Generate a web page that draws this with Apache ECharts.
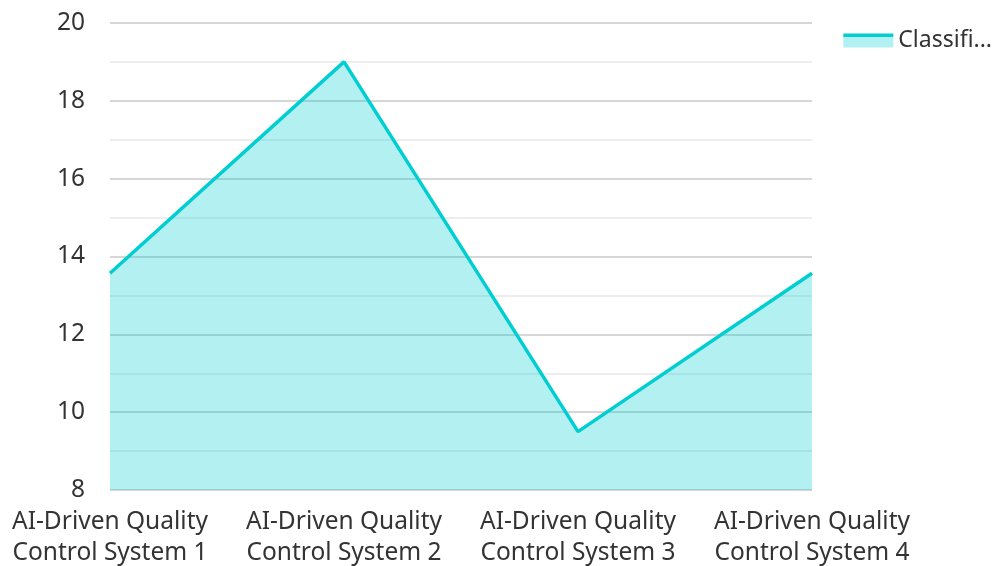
<!DOCTYPE html>
<html><head><meta charset="utf-8">
<script src="https://cdn.jsdelivr.net/npm/echarts@6/dist/echarts.min.js"></script>
<style>html,body{margin:0;padding:0;background:#fff}#c{width:999px;height:566px}</style>
</head><body><div id="c"></div>
<script>
const categories = ["AI-Driven Quality\nControl System 1","AI-Driven Quality\nControl System 2","AI-Driven Quality\nControl System 3","AI-Driven Quality\nControl System 4"];
const seriesName = "Classification Accuracy";
const values = [13.57, 19.0, 9.5, 13.57];
const yMin = 8, yMax = 20, yInterval = 2;

const chart = echarts.init(document.getElementById('c'));
chart.setOption({
  animation: false,
  textStyle: {fontFamily: "Noto Sans"},
  grid: {left: 110, right: 187, top: 23, bottom: 76, containLabel: false, outerBoundsMode: 'none'},
  legend: {
    right: 2, top: 24, itemWidth: 50, itemHeight: 14, itemGap: 10,
    icon: 'rect',
    itemStyle: {
      color: new echarts.graphic.LinearGradient(0, 0, 0, 1, [
        {offset: 0, color: '#00CED1'}, {offset: 0.28, color: '#00CED1'},
        {offset: 0.28, color: '#B2F0F1'}, {offset: 1, color: '#B2F0F1'}
      ])
    },
    lineStyle: {opacity: 0},
    textStyle: {fontSize: 23, color: '#333', width: 102, overflow: 'truncate', fontFamily: "Noto Sans"},
    data: [seriesName]
  },
  xAxis: {
    type: 'category', data: categories, boundaryGap: false,
    axisLine: {show: false}, axisTick: {show: false},
    axisLabel: {interval: 0, fontSize: 24.5, color: '#333', lineHeight: 31, margin: 17, fontFamily: "Noto Sans"},
    splitLine: {show: false}
  },
  yAxis: {
    type: 'value', min: yMin, max: yMax, interval: yInterval,
    axisLine: {show: false}, axisTick: {show: false},
    axisLabel: {fontSize: 24.5, color: '#333', margin: 25, fontFamily: "Noto Sans"},
    splitLine: {lineStyle: {color: '#c8c8c8', width: 1.5}},
    minorTick: {show: false, splitNumber: 2},
    minorSplitLine: {show: true, lineStyle: {color: '#e8e8e8', width: 1.5}}
  },
  series: [{
    name: seriesName, type: 'line', data: values, symbol: 'none',
    lineStyle: {color: '#00CED1', width: 3.5},
    itemStyle: {color: '#00CED1'},
    areaStyle: {color: '#00CED1', opacity: 0.3}
  }]
});
</script></body></html>
